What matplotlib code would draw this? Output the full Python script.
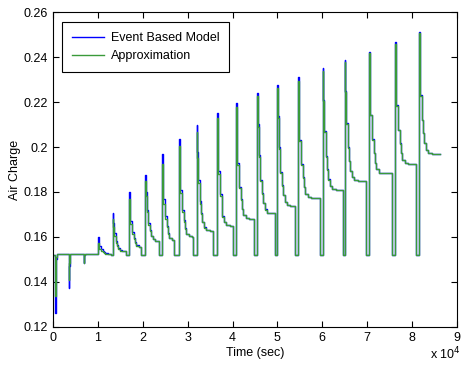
import matplotlib
matplotlib.use("Agg")
import matplotlib.pyplot as plt

plt.rcParams['font.family'] = ['Liberation Sans', 'DejaVu Sans']

# event times (seconds)
rise_t = [500, 3600, 6800, 10000, 13300, 16900, 20600, 24300, 28100, 32000,
          36500, 40800, 45500, 50000, 54600, 60100, 65000, 70400, 76200, 81500]
end_t = [3600, 6800, 10000, 12900, 16300, 19700, 23600, 26900, 31200, 35700,
         40200, 44800, 49500, 53900, 59500, 64500, 69700, 75500, 80800, 86200]
# peak values (dips at the start) for each model
peak_model = [0.1263, 0.1373, 0.1483, 0.1600, 0.1705, 0.1800, 0.1875, 0.1968,
              0.2036, 0.2098, 0.2153, 0.2197, 0.2239, 0.2276, 0.2310, 0.2350,
              0.2387, 0.2424, 0.2468, 0.2512]
peak_approx = [0.1336, 0.1410, 0.1483, 0.1573, 0.1680, 0.1770, 0.1850, 0.1925,
               0.2005, 0.2065, 0.2130, 0.2180, 0.2225, 0.2262, 0.2295, 0.2340,
               0.2380, 0.2420, 0.2460, 0.2508]
plateau = [0.1525, 0.1525, 0.1525, 0.1525, 0.1535, 0.1555, 0.1580, 0.1585,
           0.1600, 0.1627, 0.1649, 0.1680, 0.1705, 0.1739, 0.1775, 0.1809,
           0.1848, 0.1883, 0.1925, 0.1969]
baseline = 0.152
n_dips = 3

# staircase decay after each pulse
decay_dt = [0, 150, 300, 670, 1040, 1260, 1630, 2150, 2900]
decay_frac = [1.0, 0.742, 0.482, 0.278, 0.169, 0.087, 0.033, 0.006, 0.0]
# the early dips recover almost at once
dip_dt = [0, 60, 150, 300]
dip_frac = [1.0, 0.35, 0.08, 0.0]


def build(peaks):
    xs = [0]
    ys = [baseline]
    n = len(rise_t)
    for i in range(n):
        if i < n_dips:
            dts, fr = dip_dt, dip_frac
        else:
            dts, fr = decay_dt, decay_frac
        for dt, f in zip(dts, fr):
            t = rise_t[i] + dt
            if t >= end_t[i]:
                break
            xs.append(t)
            ys.append(plateau[i] + f * (peaks[i] - plateau[i]))
        xs.append(end_t[i])
        if i == n - 1:
            ys.append(plateau[i])
        elif end_t[i] < rise_t[i + 1]:
            ys.append(baseline)
        else:
            ys.append(plateau[i])
    return [x / 1e4 for x in xs], ys


fig = plt.figure(figsize=(4.74, 3.72), dpi=100)
ax = fig.add_axes([0.1118, 0.121, 0.8523, 0.8467])

x1, y1 = build(peak_model)
x2, y2 = build(peak_approx)
ax.plot(x1, y1, color='#0000ff', lw=1.0, drawstyle='steps-post', label='Event Based Model')
ax.plot(x2, y2, color='#3a9a3a', lw=1.0, drawstyle='steps-post', label='Approximation')

ax.set_xlim(0, 9)
ax.set_ylim(0.12, 0.26)
ax.set_xticks(range(0, 10))
ax.set_xticklabels([str(i) for i in range(0, 10)])
ax.set_yticks([0.12, 0.14, 0.16, 0.18, 0.2, 0.22, 0.24, 0.26])
ax.set_yticklabels(['0.12', '0.14', '0.16', '0.18', '0.2', '0.22', '0.24', '0.26'])
ax.tick_params(direction='in', top=True, right=True, labelsize=9, length=4, width=0.8)
for s in ax.spines.values():
    s.set_linewidth(0.8)

ax.set_xlabel('Time (sec)', fontsize=9, labelpad=2)
ax.set_ylabel('Air Charge', fontsize=9, labelpad=2)
fig.text(0.908, 0.035, r'x 10$^4$', fontsize=9)

leg = ax.legend(loc='upper left', bbox_to_anchor=(0.022, 0.968), borderaxespad=0,
                fontsize=9, fancybox=False, framealpha=1, edgecolor='black',
                borderpad=0.8, labelspacing=0.5, handlelength=2.6, handletextpad=0.5)
leg.get_frame().set_linewidth(0.8)

fig.savefig('out.png', dpi=100)
